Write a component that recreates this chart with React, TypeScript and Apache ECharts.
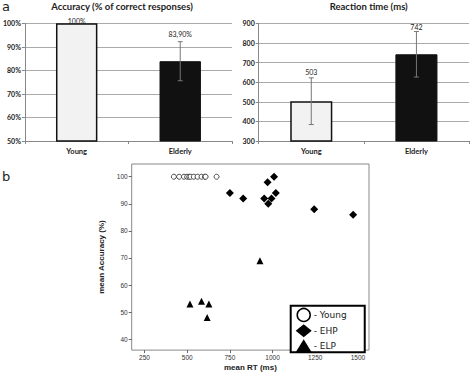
import React, { useEffect, useRef } from 'react';
import * as echarts from 'echarts';

const groups = ['Young', 'Elderly'];
const accMeans = [100, 83.9];
const accErr = [0, 8.3];
const accLabels = ['100%', '83,90%'];
const rtMeans = [503, 742];
const rtErr = [119, 116];
const rtLabels = ['503', '742'];

const youngPts = [[422, 100], [453, 100], [481, 100], [500, 100], [512, 100], [520, 100], [539, 100], [561, 100], [584, 100], [604, 100], [608, 100], [672, 100]];
const ehpPts = [[1009, 100], [971, 98], [750, 94], [1019, 94], [828, 92], [951, 92], [994, 92], [975, 90], [1244, 88], [1472, 86]];
const elpPts = [[926, 69], [516, 53], [584, 54], [627, 53], [617, 48]];
const rtTicks = [250, 500, 750, 1000, 1250, 1500];
const accTicks = [40, 50, 60, 70, 80, 90, 100];

const topFont = 'Lato';
const sansFont = 'Liberation Sans';

function errRender(means: number[], errs: number[], labels: string[], labelOffset: number[]) {
  return (params: any, api: any) => {
    const i = api.value(0);
    const m = means[i];
    const e = errs[i];
    const hi = api.coord([i, m + e]);
    const lo = api.coord([i, m - e]);
    const children: any[] = [];
    if (e > 0) {
      children.push({ type: 'line', shape: { x1: hi[0], y1: hi[1], x2: lo[0], y2: lo[1] }, style: { stroke: '#777', lineWidth: 1 } });
      children.push({ type: 'line', shape: { x1: hi[0] - 2.5, y1: hi[1], x2: hi[0] + 2.5, y2: hi[1] }, style: { stroke: '#777', lineWidth: 1 } });
      children.push({ type: 'line', shape: { x1: lo[0] - 2.5, y1: lo[1], x2: lo[0] + 2.5, y2: lo[1] }, style: { stroke: '#777', lineWidth: 1 } });
    }
    children.push({
      type: 'text',
      style: {
        text: labels[i], x: hi[0], y: hi[1] + labelOffset[i],
        align: 'center', verticalAlign: 'middle', textAlign: 'center', textVerticalAlign: 'middle',
        font: `7px ${topFont}`, fill: '#222',
      },
    });
    return { type: 'group', children };
  };
}

export default function App() {
  const ref = useRef<HTMLDivElement>(null);
  useEffect(() => {
    document.body.style.margin = '0';
    const chart = echarts.init(ref.current!, null, { renderer: 'svg' });
    const catAxis = (gi: number) => ({
      type: 'category', gridIndex: gi, data: groups,
      axisLine: { lineStyle: { color: '#888', width: 1 } },
      axisTick: { show: true, length: 3, lineStyle: { color: '#888' } },
      axisLabel: { fontFamily: topFont, fontWeight: 'bold', fontSize: 7.5, color: '#222', margin: 6 },
    });
    const valAxisTop = (gi: number, min: number, max: number, interval: number, fmt: string) => ({
      type: 'value', gridIndex: gi, min, max, interval,
      axisLine: { show: true, lineStyle: { color: '#888', width: 1 } },
      axisTick: { show: true, length: 3, lineStyle: { color: '#888' } },
      splitLine: { lineStyle: { color: '#aaa', width: 1 } },
      axisLabel: { formatter: fmt, fontFamily: topFont, fontWeight: 'bold', fontSize: 7, color: '#222', margin: 4 },
    });
    const option: any = {
      animation: false,
      backgroundColor: '#fff',
      grid: [
        { left: 21, top: 23.3, width: 211, height: 117.7 },
        { left: 258.7, top: 23.3, width: 210.3, height: 117.7 },
        { left: 131.7, top: 164, width: 237.3, height: 192.7, show: true, borderColor: '#888', borderWidth: 1, backgroundColor: 'transparent' },
      ],
      xAxis: [
        catAxis(0),
        catAxis(1),
        {
          type: 'value', gridIndex: 2, min: 175, max: 1565,
          name: 'mean RT (ms)', nameLocation: 'middle', nameGap: 13,
          nameTextStyle: { fontFamily: sansFont, fontWeight: 'bold', fontSize: 8, color: '#222' },
          axisLine: { show: false },
          axisTick: { show: true, length: 3, inside: false, customValues: rtTicks, lineStyle: { color: '#666' } },
          axisLabel: { customValues: rtTicks, formatter: (v: number) => String(v), fontFamily: sansFont, fontSize: 6.5, color: '#333', margin: 4 },
          splitLine: { show: false },
        },
      ],
      yAxis: [
        valAxisTop(0, 50, 100, 10, '{value}%'),
        valAxisTop(1, 300, 900, 100, '{value}'),
        {
          type: 'value', gridIndex: 2, min: 36, max: 104.7,
          name: 'mean Accuracy (%)', nameLocation: 'middle', nameGap: 19, nameRotate: 90,
          nameTextStyle: { fontFamily: sansFont, fontWeight: 'bold', fontSize: 8, color: '#222' },
          axisLine: { show: false },
          axisTick: { show: true, length: 3, customValues: accTicks, lineStyle: { color: '#666' } },
          axisLabel: { customValues: accTicks, formatter: (v: number) => String(v), fontFamily: sansFont, fontSize: 6.5, color: '#333', margin: 4 },
          splitLine: { show: false },
        },
      ],
      legend: {
        orient: 'vertical', left: 290.7, top: 305.7,
        backgroundColor: '#fff',
        borderColor: '#000', borderWidth: 2, borderRadius: 0,
        padding: [2, 18, 0, 5],
        itemWidth: 16, itemHeight: 13, itemGap: 2,
        formatter: '- {name}',
        textStyle: { fontFamily: 'DejaVu Sans', fontSize: 9, color: '#222', padding: [0, 0, 0, -3] },
        data: [
          { name: 'Young', icon: 'circle', itemStyle: { color: '#fff', borderColor: '#000', borderWidth: 1.5 } },
          { name: 'EHP', icon: 'diamond', itemStyle: { color: '#000' } },
          { name: 'ELP', icon: 'triangle', itemStyle: { color: '#000' } },
        ],
      },
      series: [
        {
          type: 'bar', xAxisIndex: 0, yAxisIndex: 0, barWidth: '40%',
          data: accMeans.map((v, i) => ({ value: v, itemStyle: i === 0 ? { color: '#f2f2f2', borderColor: '#111', borderWidth: 1.5 } : { color: '#111', borderColor: '#111', borderWidth: 1 } })),
        },
        {
          type: 'bar', xAxisIndex: 1, yAxisIndex: 1, barWidth: '40%',
          data: rtMeans.map((v, i) => ({ value: v, itemStyle: i === 0 ? { color: '#f2f2f2', borderColor: '#111', borderWidth: 1.5 } : { color: '#111', borderColor: '#111', borderWidth: 1 } })),
        },
        {
          type: 'custom', xAxisIndex: 0, yAxisIndex: 0, z: 5,
          renderItem: errRender(accMeans, accErr, accLabels, [-2, -8]),
          data: groups.map((g, i) => [i]),
        },
        {
          type: 'custom', xAxisIndex: 1, yAxisIndex: 1, z: 5,
          renderItem: errRender(rtMeans, rtErr, rtLabels, [-6, -5]),
          data: groups.map((g, i) => [i]),
        },
        {
          name: 'Young', type: 'scatter', xAxisIndex: 2, yAxisIndex: 2,
          symbol: 'circle', symbolSize: 5,
          itemStyle: { color: '#fff', borderColor: '#222', borderWidth: 0.8, opacity: 1 },
          data: youngPts,
        },
        {
          name: 'EHP', type: 'scatter', xAxisIndex: 2, yAxisIndex: 2,
          symbol: 'diamond', symbolSize: 8,
          itemStyle: { color: '#000', opacity: 1 },
          data: ehpPts,
        },
        {
          name: 'ELP', type: 'scatter', xAxisIndex: 2, yAxisIndex: 2,
          symbol: 'triangle', symbolSize: 7,
          itemStyle: { color: '#000', opacity: 1 },
          data: elpPts,
        },
      ],
      graphic: [
        { type: 'text', x: 2, y: 0, style: { text: 'a', font: '13px "DejaVu Sans"', fill: '#222' } },
        { type: 'text', x: 2, y: 170, style: { text: 'b', font: '13px "DejaVu Sans"', fill: '#222' } },
        { type: 'text', x: 122, y: 1, style: { text: 'Accuracy (% of correct responses)', font: `bold 9.5px ${topFont}`, fill: '#222', align: 'center', textAlign: 'center' } },
        { type: 'text', x: 368.7, y: 1, style: { text: 'Reaction time (ms)', font: `bold 9.5px ${topFont}`, fill: '#222', align: 'center', textAlign: 'center' } },
      ],
    };
    chart.setOption(option);
    return () => chart.dispose();
  }, []);
  return <div ref={ref} style={{ width: 474, height: 379, position: 'absolute', left: 0, top: 0 }} />;
}
